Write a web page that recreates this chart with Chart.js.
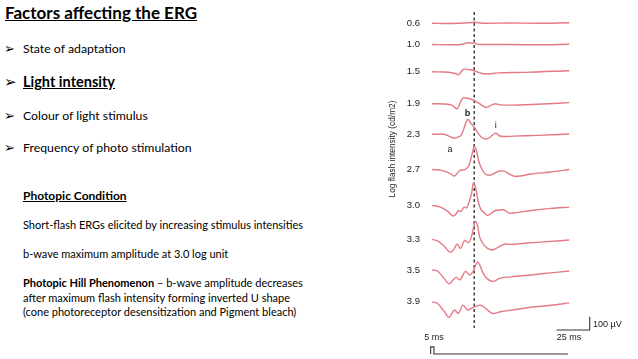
<!DOCTYPE html>
<html lang="en">
<head>
<meta charset="UTF-8">
<title>Factors affecting the ERG</title>
<script src="https://cdn.jsdelivr.net/npm/chart.js"></script>
<style>
  body { margin: 0; width: 638px; height: 359px; background: #fff; overflow: hidden; position: relative; font-family: Lato, 'Open Sans', sans-serif; color: #000; }
  .txt { position: absolute; left: 23px; white-space: nowrap; line-height: 16px; font-size: 11px; }
  .big { font-size: 12.3px; }
  .bullet { position: absolute; left: 4px; font-family: 'DejaVu Sans', sans-serif; font-size: 13px; line-height: 16px; }
  .title { position: absolute; left: 5px; top: 2px; font-size: 17px; font-weight: bold; text-decoration: underline; white-space: nowrap; line-height: 22px; }
  .chart-box { position: absolute; left: 380px; top: 0; width: 258px; height: 359px; }
</style>
</head>
<body>
  <div class="title">Factors affecting the ERG</div>

  <div class="bullet" style="top:41px">&#10146;</div>
  <div class="txt big" style="top:41px">State of adaptation</div>
  <div class="bullet" style="top:74px;font-size:15px">&#10146;</div>
  <div class="txt" style="top:74px;font-size:14.5px;font-weight:bold;text-decoration:underline">Light intensity</div>
  <div class="bullet" style="top:108px">&#10146;</div>
  <div class="txt big" style="top:108px">Colour of light stimulus</div>
  <div class="bullet" style="top:140px">&#10146;</div>
  <div class="txt big" style="top:140px">Frequency of photo stimulation</div>

  <div class="txt" style="top:188px;font-size:12px;font-weight:bold;text-decoration:underline">Photopic Condition</div>
  <div class="txt" style="top:217px">Short-flash ERGs elicited by increasing stimulus intensities</div>
  <div class="txt" style="top:246px">b-wave maximum amplitude at 3.0 log unit</div>
  <div class="txt" style="top:275px"><b>Photopic Hill Phenomenon</b> &ndash; b-wave amplitude decreases</div>
  <div class="txt" style="top:290px">after maximum flash intensity forming inverted U shape</div>
  <div class="txt" style="top:304px">(cone photoreceptor desensitization and Pigment bleach)</div>

  <div class="chart-box">
    <canvas id="ergChart" width="258" height="359"></canvas>
  </div>

<script>
// log flash intensity of each trace (cd/m2), top to bottom
const intensities = ['0.6', '1.0', '1.5', '1.9', '2.3', '2.7', '3.0', '3.3', '3.5', '3.9'];
// vertical stacking offset of each trace (uV)
const baselines = [-175, -335, -540, -780, -1010, -1275, -1545, -1800, -2030, -2270];

// traces: [time ms, amplitude uV]
const trace06 = [[0, 0], [10, -2], [20, 0], [28, 4], [32, 8], [40, 0], [60, 2], [80, 0], [104, 4]];
const trace10 = [[0, 0], [20, -2], [24, 4], [27, 13], [32, 11], [36, 0], [60, 0], [80, -2], [104, 2]];
const trace15 = [[0, 0], [10, -2], [17, -11], [20, -22], [23, 11], [25, 20], [29, 15], [32, 8], [37, -11], [41, -17], [50, -8], [70, -4], [104, 8]];
const trace19 = [[0, 0], [10, -2], [15, -11], [19, -38], [22, 22], [24, 45], [27, 41], [32, 25], [36, 0], [41, -28], [45, -11], [48, 0], [52, -9], [60, -11], [80, -4], [104, 8]];
const trace23 = [[0, 0], [8, 2], [14, -19], [17, -30], [20, -19], [22, -8], [24, 38], [26.5, 105], [27.5, 112], [29, 90], [32, 52], [35, 8], [38, -26], [41, -35], [44, -22], [47, 4], [48.5, 8], [51, -11], [55, -17], [62, -14], [80, -8], [104, 2]];
const trace27 = [[0, 0], [8, -8], [14, -30], [17, -49], [19, -30], [21, -8], [25, 0], [28, 30], [30.5, 120], [32, 172], [33.5, 150], [35.5, 60], [38, 0], [40, -30], [43, -43], [47, -30], [51, -11], [54, -10], [58, -30], [63, -52], [67, -49], [75, -34], [90, -19], [104, 0]];
const trace30 = [[0, 0], [6, -11], [12, -45], [16, -79], [18, -68], [20, -38], [22, -45], [24.5, -11], [26, -19], [28, 22], [30, 90], [31.5, 172], [33, 135], [35, 30], [37, -30], [39, -49], [42, -75], [45, -60], [48, -38], [54, -32], [59, -60], [63, -56], [75, -38], [90, -22], [104, -13]];
const trace33 = [[0, 0], [5, -15], [10, -60], [14, -98], [17, -68], [19, -35], [21.5, -68], [25, -8], [27.5, -26], [30, 22], [32, 112], [33, 135], [34.5, 105], [36, 22], [38, -22], [42, -68], [46, -80], [50, -60], [56, -35], [60, -38], [70, -30], [85, -19], [104, -5]];
const trace35 = [[0, 0], [4, -8], [9, -60], [13, -105], [16, -75], [18.5, -56], [21, -75], [25.5, -11], [28.5, -38], [31, -15], [34.5, 60], [36.5, 30], [39, -30], [43, -75], [47, -86], [51, -64], [60, -52], [75, -38], [90, -22], [104, -8]];
const trace39 = [[0, 0], [4, -11], [9, -68], [13, -118], [17, -62], [20, -88], [23.5, -25], [27, -62], [31, -43], [36.5, -25], [42, -60], [46, -88], [52, -75], [62, -60], [75, -41], [90, -26], [104, -8]];
const traces = [trace06, trace10, trace15, trace19, trace23, trace27, trace30, trace33, trace35, trace39];

// flash marker (ms, uV above its own baseline)
const stimulus = [[-1, 0], [-1, 53], [1.5, 53], [1.5, 0], [103, 0]];
const stimulusBase = -2662;
// b-wave timing reference line
const bWaveTime = 32;
const bWaveSpan = [-90, -2466];
// calibration bars
const barMs = 25;
const barUv = 100;
const barCorner = [119.5, -2482];

const traceColor = '#e47a84';

const datasets = traces.map((trace, i) => ({
    label: intensities[i],
    data: trace.map(p => ({ x: p[0], y: p[1] + baselines[i] })),
    borderColor: traceColor,
    borderWidth: 1.4,
    pointRadius: 0,
    cubicInterpolationMode: 'monotone',
    fill: false
}));

datasets.push({
    label: 'b-wave',
    data: bWaveSpan.map(v => ({ x: bWaveTime, y: v })),
    borderColor: '#333',
    borderWidth: 1.4,
    borderDash: [3, 2.5],
    pointRadius: 0
});
datasets.push({
    label: 'calibration',
    data: [
        { x: barCorner[0] - barMs, y: barCorner[1] },
        { x: barCorner[0], y: barCorner[1] },
        { x: barCorner[0], y: barCorner[1] + barUv }
    ],
    borderColor: '#333',
    borderWidth: 1.1,
    pointRadius: 0
});
datasets.push({
    label: 'stimulus',
    data: stimulus.map(p => ({ x: p[0], y: p[1] + stimulusBase })),
    borderColor: '#333',
    borderWidth: 1.1,
    pointRadius: 0
});

// text labels on the figure
const figureLabels = {
    id: 'figureLabels',
    afterDraw(chart) {
        const ctx = chart.ctx;
        const xs = chart.scales.x;
        const ys = chart.scales.y;
        const put = (text, t, v, align, font) => {
            ctx.font = font || '9px "Liberation Sans", Arial, sans-serif';
            ctx.textAlign = align || 'center';
            ctx.textBaseline = 'middle';
            ctx.fillText(text, xs.getPixelForValue(t), ys.getPixelForValue(v));
        };
        ctx.save();
        ctx.fillStyle = '#222';
        put('b', 27, -852, 'center', 'bold 9px "Liberation Sans", Arial, sans-serif');
        put('i', 48.3, -945);
        put('a', 13.6, -1128);
        put('5 ms', 1.5, -2542);
        put('25 ms', barCorner[0] - barMs, -2542, 'left');
        put('100 \u00b5V', barCorner[0] + 2.5, -2444, 'left');

        ctx.translate(13, 149);
        ctx.rotate(-Math.PI / 2);
        ctx.font = '8.3px "Liberation Sans", Arial, sans-serif';
        ctx.textAlign = 'center';
        ctx.textBaseline = 'middle';
        ctx.fillText('Log flash intensity (cd/m2)', 0, 0);
        ctx.restore();
    }
};

new Chart(document.getElementById('ergChart'), {
    type: 'line',
    data: { datasets: datasets },
    options: {
        responsive: false,
        animation: false,
        devicePixelRatio: 1,
        layout: { padding: { left: 0, right: 10, top: 0, bottom: 0 } },
        plugins: { legend: { display: false }, tooltip: { enabled: false } },
        scales: {
            x: { type: 'linear', display: false, min: -3, max: 148.5 },
            y: {
                type: 'linear',
                min: -2700,
                max: 0,
                grid: { display: false, drawTicks: false },
                border: { display: false },
                afterBuildTicks: scale => { scale.ticks = baselines.map(v => ({ value: v })); },
                afterFit: scale => { scale.width = 48; scale.paddingTop = 0; scale.paddingBottom = 0; },
                ticks: {
                    padding: 8,
                    color: '#222',
                    font: { family: '"Liberation Sans", Arial, sans-serif', size: 9.5 },
                    callback: value => intensities[baselines.indexOf(value)]
                }
            }
        }
    },
    plugins: [figureLabels]
});
</script>
</body>
</html>
